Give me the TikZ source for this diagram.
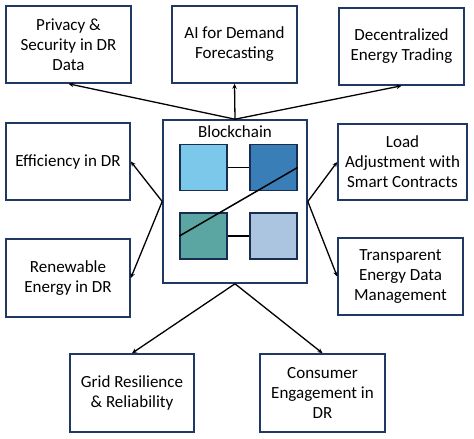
\documentclass[tikz,border=0pt]{standalone}
\usepackage{fontspec}
\setmainfont{Carlito}
\usetikzlibrary{arrows.meta}
\definecolor{navy}{HTML}{1F3864}
\definecolor{sqa}{HTML}{7CC8EA}
\definecolor{sqb}{HTML}{3A7EB8}
\definecolor{sqc}{HTML}{5BA5A2}
\definecolor{sqd}{HTML}{ABC4E0}
\begin{document}
\begin{tikzpicture}[x=1pt,y=-1pt,
  box/.style={draw=navy,line width=1.6pt,fill=white,align=center,inner sep=1pt,
    font=\fontsize{17}{20}\selectfont,text=black},
  sq/.style={draw=navy!80!black,line width=1.2pt,minimum width=47pt,minimum height=46pt,inner sep=0pt},
  arr/.style={line width=1.3pt,-{Stealth[length=5pt,width=4.5pt]}},
  link/.style={line width=1.5pt}]
\useasboundingbox (0,0) rectangle (474,439);
% boxes
\node[box,minimum width=125pt,minimum height=77pt] (p) at (68.5,44.5) {Privacy \&\\Security in DR\\Data};
\node[box,minimum width=125pt,minimum height=77pt] (a) at (234.5,44.5) {AI for Demand\\Forecasting};
\node[box,minimum width=125pt,minimum height=77pt] (d) at (401.5,46.5) {Decentralized\\Energy Trading};
\node[box,minimum width=124pt,minimum height=77pt] (e) at (68,161.5) {Efficiency in DR};
\node[box,minimum width=124pt,minimum height=78pt] (r) at (68,278) {Renewable\\Energy in DR};
\node[box,minimum width=129pt,minimum height=76pt] (l) at (402.5,162) {Load\\Adjustment with\\Smart Contracts};
\node[box,minimum width=125pt,minimum height=77pt] (t) at (400.5,276.5) {Transparent\\Energy Data\\Management};
\node[box,minimum width=124pt,minimum height=78pt] (g) at (132,393) {Grid Resilience\\\& Reliability};
\node[box,minimum width=125pt,minimum height=78pt] (c) at (322.5,393) {Consumer\\Engagement in\\DR};
% blockchain
\node[draw=navy,line width=1.6pt,minimum width=144pt,minimum height=163pt,inner sep=0pt] (b) at (235,201.5) {};
\node[font=\fontsize{17}{20}\selectfont] (bt) at (235,132) {Blockchain};
\node[sq,fill=sqa] (s1) at (203.5,167.5) {};
\node[sq,fill=sqb] (s2) at (273.5,167.5) {};
\node[sq,fill=sqc] (s3) at (203.5,236) {};
\node[sq,fill=sqd] (s4) at (273.5,236) {};
\draw[link] (s1) -- (s2);
\draw[link] (s3) -- (s4);
\draw[link] (s3.west) -- (s2.east);
% arrows
\draw[arr] (b.north) -- (p.south);
\draw[arr] (b.north) -- (a.south);
\draw[arr] (b.north) -- (d.south);
\draw[arr] (b.west) -- (e.east);
\draw[arr] (b.west) -- (r.east);
\draw[arr] (b.east) -- (l.west);
\draw[arr] (b.east) -- (t.west);
\draw[arr] (b.south) -- (g.north);
\draw[arr] (b.south) -- (c.north);
\end{tikzpicture}
\end{document}
